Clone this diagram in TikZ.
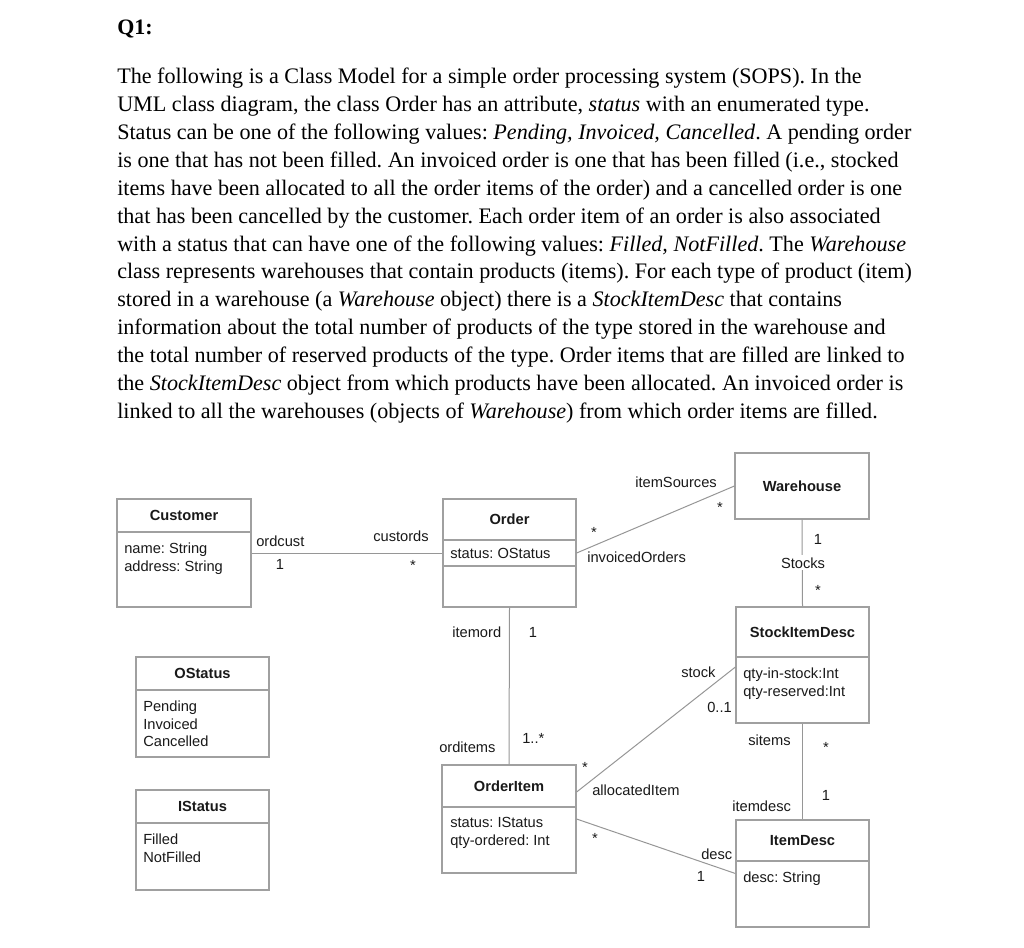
\documentclass[tikz,border=0pt]{standalone}
\usepackage{fontspec}
\setmainfont{Liberation Serif}
\newfontfamily\diagfont{Liberation Sans}
\definecolor{boxgray}{RGB}{160,160,160}
\definecolor{linegray}{RGB}{150,150,150}
\definecolor{txt}{RGB}{25,25,25}
\frenchspacing
\tikzset{
  para/.style={anchor=base west, inner sep=0pt, font=\frenchspacing\fontsize{16.6}{19}\selectfont, text=black},
  qhead/.style={anchor=base west, inner sep=0pt, font=\bfseries\fontsize{16.5}{19}\selectfont, text=black},
  cls/.style={draw=boxgray, line width=0.9pt, inner sep=0pt, fill=none},
  divline/.style={draw=boxgray, line width=0.9pt},
  conn/.style={draw=linegray, line width=0.75pt},
  ctitle/.style={anchor=base, inner sep=0pt, font=\diagfont\bfseries\fontsize{11}{13}\selectfont, text=txt},
  cattr/.style={anchor=base west, inner sep=0pt, font=\diagfont\fontsize{11}{13}\selectfont, text=txt},
  lab/.style={anchor=base west, inner sep=0pt, font=\diagfont\fontsize{11}{13}\selectfont, text=txt},
  mult/.style={anchor=base, inner sep=0pt, font=\diagfont\fontsize{11}{13}\selectfont, text=txt},
}
\newcommand{\cbox}[5]{\node[cls, minimum width={(#4-#2)*0.75pt}, minimum height={(#5-#3)*0.75pt}] (#1) at ({(#2+#4)/2},{(#3+#5)/2}) {};}
\begin{document}
\begin{tikzpicture}[x=0.75pt,y=-0.75pt]
\useasboundingbox (0,0) rectangle (1024,947);
% heading and paragraph
\node[qhead] (q1) at (117,34) {Q1:};
\node[para] (p1) at (117,83) {The following is a Class Model for a simple order processing system (SOPS). In the};
\node[para] (p2) at (117,111) {UML class diagram, the class Order has an attribute, \textit{status} with an enumerated type.};
\node[para] (p3) at (117,139) {Status can be one of the following values: \textit{Pending, Invoiced, Cancelled}. A pending order};
\node[para] (p4) at (117,167) {is one that has not been filled. An invoiced order is one that has been filled (i.e., stocked};
\node[para] (p5) at (117,195) {items have been allocated to all the order items of the order) and a cancelled order is one};
\node[para] (p6) at (117,223) {that has been cancelled by the customer. Each order item of an order is also associated};
\node[para] (p7) at (117,251) {with a status that can have one of the following values: \textit{Filled, NotFilled}. The \textit{Warehouse}};
\node[para] (p8) at (117,278) {class represents warehouses that contain products (items). For each type of product (item)};
\node[para] (p9) at (117,306) {stored in a warehouse (a \textit{Warehouse} object) there is a \textit{StockItemDesc} that contains};
\node[para] (p10) at (117,334) {information about the total number of products of the type stored in the warehouse and};
\node[para] (p11) at (117,362) {the total number of reserved products of the type. Order items that are filled are linked to};
\node[para] (p12) at (117,390) {the \textit{StockItemDesc} object from which products have been allocated. An invoiced order is};
\node[para] (p13) at (117,418) {linked to all the warehouses (objects of \textit{Warehouse}) from which order items are filled.};

% class boxes
\cbox{cust}{117}{499}{251}{607}
\cbox{order}{443}{499}{576}{607}
\cbox{wh}{735}{453}{869}{519}
\cbox{sid}{736}{607}{869}{723}
\cbox{ostat}{136}{657}{269}{757}
\cbox{istat}{136}{790}{269}{890}
\cbox{oi}{442}{765}{576}{873}
\cbox{idesc}{736}{820}{869}{927}

% compartment dividers
\draw[divline] (cust.west |- 0,532) -- (cust.east |- 0,532);
\draw[divline] (order.west |- 0,540) -- (order.east |- 0,540);
\draw[divline] (order.west |- 0,566) -- (order.east |- 0,566);
\draw[divline] (sid.west |- 0,657) -- (sid.east |- 0,657);
\draw[divline] (ostat.west |- 0,690) -- (ostat.east |- 0,690);
\draw[divline] (istat.west |- 0,823) -- (istat.east |- 0,823);
\draw[divline] (oi.west |- 0,807) -- (oi.east |- 0,807);
\draw[divline] (idesc.west |- 0,861) -- (idesc.east |- 0,861);

% class names and attributes
\node[ctitle] (custT) at (184,520) {Customer};
\node[cattr] (custA1) at (124,553) {name: String};
\node[cattr] (custA2) at (124,571) {address: String};

\node[ctitle] (orderT) at (509.5,524) {Order};
\node[cattr] (orderA1) at (450,558) {status: OStatus};

\node[ctitle] (whT) at (802,491) {Warehouse};

\node[ctitle] (sidT) at (802.5,637) {StockItemDesc};
\node[cattr] (sidA1) at (743,678) {qty-in-stock:Int};
\node[cattr] (sidA2) at (743,696) {qty-reserved:Int};

\node[ctitle] (ostatT) at (202.5,678) {OStatus};
\node[cattr] (ostatA1) at (143,711) {Pending};
\node[cattr] (ostatA2) at (143,729) {Invoiced};
\node[cattr] (ostatA3) at (143,746) {Cancelled};

\node[ctitle] (istatT) at (202.5,811) {IStatus};
\node[cattr] (istatA1) at (143,844) {Filled};
\node[cattr] (istatA2) at (143,862) {NotFilled};

\node[ctitle] (oiT) at (509,791) {OrderItem};
\node[cattr] (oiA1) at (450,827) {status: IStatus};
\node[cattr] (oiA2) at (450,845) {qty-ordered: Int};

\node[ctitle] (idescT) at (802.5,845) {ItemDesc};
\node[cattr] (idescA1) at (743,882) {desc: String};

% connectors
\coordinate (yA) at (0,792);
\coordinate (yB) at (0,667);
\coordinate (oiTop) at (oi.east |- yA);
\coordinate (sidSide) at (sid.west |- yB);
\draw[conn] (cust.east) -- (order.west);
\draw[conn] (order.east) -- (wh.west);
\draw[conn] (wh.south) -- (sid.north);
\draw[conn] (order.south) -- (oi.north);
\draw[conn] (oiTop) -- (sidSide);
\draw[conn] (oi.east) -- (idesc.west);
\draw[conn] (sid.south) -- (idesc.north);

% association labels
\node[lab] (l1) at (256,546) {ordcust};
\node[mult] (m1) at (280,569) {1};
\node[lab] (l2) at (373,541) {custords};
\node[mult] (m2) at (413,570) {*};

\node[lab] (l3) at (635,487) {itemSources};
\node[mult] (m3) at (720,512) {*};
\node[mult] (m4) at (594,537) {*};
\node[lab] (l4) at (587,562) {invoicedOrders};

\node[mult] (m5) at (818,544) {1};
\node[mult, fill=white, inner sep=1.5pt] (l5) at (803,568) {Stocks};
\node[mult] (m6) at (818,595) {*};

\node[lab] (l6) at (452,637) {itemord};
\node[mult] (m7) at (533,637) {1};
\node[lab] (l7) at (439,752) {orditems};
\node[lab] (m8) at (522,743) {1..*};

\node[lab] (l8) at (681,677) {stock};
\node[lab] (m9) at (707,712) {0..1};
\node[mult] (m10) at (585,772) {*};
\node[lab] (l9) at (592,795) {allocatedItem};

\node[lab] (l10) at (748,745) {sitems};
\node[mult] (m11) at (826,752) {*};
\node[lab] (l11) at (732,811) {itemdesc};
\node[mult] (m12) at (826,800) {1};

\node[mult] (m13) at (595,843) {*};
\node[lab] (l12) at (701,859) {desc};
\node[mult] (m14) at (701,881) {1};
\end{tikzpicture}
\end{document}
